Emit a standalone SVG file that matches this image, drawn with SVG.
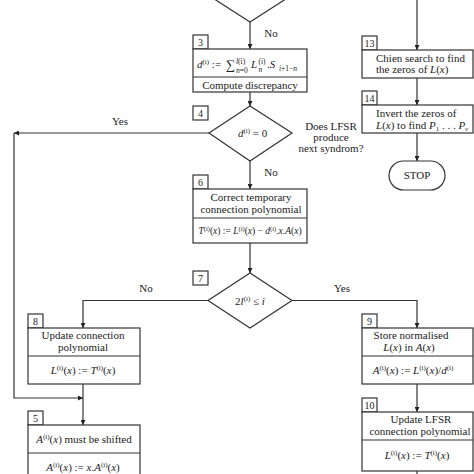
<svg xmlns="http://www.w3.org/2000/svg" width="474" height="474" viewBox="0 0 474 474">
<defs>
<marker id="ah" viewBox="0 0 10 10" refX="10" refY="5" markerWidth="5" markerHeight="5" markerUnits="userSpaceOnUse" orient="auto">
<path d="M0,0 L10,5 L0,10 z" fill="#222"/>
</marker>
<style>
rect, path.s, polygon { fill: #fff; stroke: #333; stroke-width: 1.2; }
.c path { fill: none; stroke: #333; stroke-width: 1.2; marker-end: url(#ah); }
.c path.n { marker-end: none; }
text { font-family: "Liberation Serif", "DejaVu Serif", serif; font-size: 11px; fill: #222; }
.m { text-anchor: middle; }
.lb { font-size: 10px; text-anchor: middle; }
.i { font-style: italic; }
.sp { font-size: 7px; }
.t { font-size: 7.5px; }
.f { font-size: 9.5px; }
.fs { font-size: 6.5px; }
.sig { font-size: 13px; }
</style>
</defs>
<rect x="0" y="0" width="474" height="474" style="fill:#fff;stroke:none"/>

<g class="c" id="connectors">
<path d="M250,22 L250,49"/>
<path d="M250,92 L250,106"/>
<path d="M250,161 L250,189"/>
<path d="M250,243 L250,273"/>
<path d="M208,300.5 L83,300.5 L83,328"/>
<path d="M292,300.5 L417,300.5 L417,328"/>
<path d="M83,384 L83,425"/>
<path d="M209,133 L14,133"/>
<path d="M14,133 L14,398 L83,398"/>
<path d="M417,384 L417,412"/>
<path class="n" d="M417,471 L417,474"/>
<path d="M417,0 L417,50"/>
<path d="M417,78 L417,105"/>
<path d="M417,133 L417,161"/>
</g>

<g id="labels-edges">
<text x="271" y="37" class="m">No</text>
<text x="120" y="125" class="m">Yes</text>
<text x="271" y="176" class="m">No</text>
<text x="146" y="292" class="m">No</text>
<text x="342" y="292" class="m">Yes</text>
</g>

<g id="node-start">
<polygon points="208,-5 250,-32 292,-5 250,22"/>
</g>

<g id="node-3">
<rect x="193" y="35" width="15" height="14"/>
<text x="200.5" y="46" class="lb">3</text>
<rect x="193" y="49" width="114" height="43"/>
<path class="s" d="M193,77 L307,77"/>
<text x="197" y="68"><tspan class="i">d</tspan><tspan class="sp" dy="-4">(i)</tspan><tspan dy="4"> := </tspan></text>
<text x="226" y="69" class="sig">∑</text>
<text x="236" y="63.5" class="t"><tspan class="i">l</tspan>(i)</text>
<text x="236" y="72.5" class="t"><tspan class="i">n</tspan>=0</text>
<text x="251" y="68" class="i">L</text>
<text x="258.5" y="63.5" class="t">(i)</text>
<text x="258.5" y="72" class="t i">n</text>
<text x="267" y="68">.<tspan class="i">S</tspan></text>
<text x="279" y="71" class="t"><tspan class="i">i</tspan>+1−<tspan class="i">n</tspan></text>
<text x="250" y="89" class="m">Compute discrepancy</text>
</g>

<g id="node-4">
<rect x="193" y="106" width="15" height="14"/>
<text x="200.5" y="117" class="lb">4</text>
<polygon points="209,133 250,106 292,133 250,161"/>
<text x="238" y="137"><tspan class="i">d</tspan><tspan class="sp" dy="-4">(i)</tspan><tspan dy="4"> = 0</tspan></text>
<text x="331" y="130" class="m">Does LFSR</text>
<text x="331" y="141" class="m">produce</text>
<text x="331" y="152" class="m">next syndrom?</text>
</g>

<g id="node-6">
<rect x="193" y="175" width="15" height="14"/>
<text x="200.5" y="186" class="lb">6</text>
<rect x="193" y="189" width="114" height="54"/>
<path class="s" d="M193,218 L307,218"/>
<text x="251" y="201" class="m">Correct temporary</text>
<text x="251" y="212.5" class="m">connection polynomial</text>
<text x="250" y="234" class="m f"><tspan class="i">T</tspan><tspan class="fs" dy="-3.5">(i)</tspan><tspan dy="3.5">(</tspan><tspan class="i">x</tspan>) := <tspan class="i">L</tspan><tspan class="fs" dy="-3.5">(i)</tspan><tspan dy="3.5">(</tspan><tspan class="i">x</tspan>) − <tspan class="i">d</tspan><tspan class="fs" dy="-3.5">(i)</tspan><tspan dy="3.5">.</tspan><tspan class="i">x</tspan>.<tspan class="i">A</tspan>(<tspan class="i">x</tspan>)</text>
</g>

<g id="node-7">
<rect x="193" y="271" width="15" height="14"/>
<text x="200.5" y="282" class="lb">7</text>
<polygon points="208,300.5 250,273 292,300.5 250,328"/>
<text x="250" y="305" class="m">2<tspan class="i">l</tspan><tspan class="sp" dy="-4">(i)</tspan><tspan dy="4"> ≤ </tspan><tspan class="i">i</tspan></text>
</g>

<g id="node-8">
<rect x="28" y="314" width="15" height="14"/>
<text x="35.5" y="325" class="lb">8</text>
<rect x="28" y="328" width="112" height="56"/>
<path class="s" d="M28,356 L140,356"/>
<text x="83" y="339" class="m">Update connection</text>
<text x="83" y="350.5" class="m">polynomial</text>
<text x="83" y="374" class="m"><tspan class="i">L</tspan><tspan class="sp" dy="-4">(i)</tspan><tspan dy="4">(</tspan><tspan class="i">x</tspan>) := <tspan class="i">T</tspan><tspan class="sp" dy="-4">(i)</tspan><tspan dy="4">(</tspan><tspan class="i">x</tspan>)</text>
</g>

<g id="node-5">
<rect x="28" y="411" width="15" height="14"/>
<text x="35.5" y="422" class="lb">5</text>
<rect x="28" y="425" width="112" height="58"/>
<path class="s" d="M28,453 L140,453"/>
<text x="84" y="443" class="m"><tspan class="i">A</tspan><tspan class="sp" dy="-4">(i)</tspan><tspan dy="4">(</tspan><tspan class="i">x</tspan>) must be shifted</text>
<text x="83" y="471" class="m"><tspan class="i">A</tspan><tspan class="sp" dy="-4">(i)</tspan><tspan dy="4">(</tspan><tspan class="i">x</tspan>) := <tspan class="i">x</tspan>.<tspan class="i">A</tspan><tspan class="sp" dy="-4">(i)</tspan><tspan dy="4">(</tspan><tspan class="i">x</tspan>)</text>
</g>

<g id="node-9">
<rect x="362" y="314" width="15" height="14"/>
<text x="369.5" y="325" class="lb">9</text>
<rect x="362" y="328" width="111" height="56"/>
<path class="s" d="M362,356 L473,356"/>
<text x="411" y="339" class="m">Store normalised</text>
<text x="409" y="350.5" class="m"><tspan class="i">L</tspan>(<tspan class="i">x</tspan>) in <tspan class="i">A</tspan>(<tspan class="i">x</tspan>)</text>
<text x="413" y="374" class="m"><tspan class="i">A</tspan><tspan class="sp" dy="-4">(i)</tspan><tspan dy="4">(</tspan><tspan class="i">x</tspan>) := <tspan class="i">L</tspan><tspan class="sp" dy="-4">(i)</tspan><tspan dy="4">(</tspan><tspan class="i">x</tspan>)/<tspan class="i">d</tspan><tspan class="sp" dy="-4">(i)</tspan></text>
</g>

<g id="node-10">
<rect x="362" y="398" width="15" height="14"/>
<text x="369.5" y="409" class="lb">10</text>
<rect x="362" y="412" width="111" height="59"/>
<path class="s" d="M362,440 L473,440"/>
<text x="421" y="423" class="m">Update LFSR</text>
<text x="420" y="435" class="m">connection polynomial</text>
<text x="417" y="459" class="m"><tspan class="i">L</tspan><tspan class="sp" dy="-4">(i)</tspan><tspan dy="4">(</tspan><tspan class="i">x</tspan>) := <tspan class="i">T</tspan><tspan class="sp" dy="-4">(i)</tspan><tspan dy="4">(</tspan><tspan class="i">x</tspan>)</text>
</g>

<g id="node-13">
<rect x="362" y="36" width="15" height="14"/>
<text x="369.5" y="47" class="lb">13</text>
<rect x="362" y="50" width="111" height="28"/>
<text x="376" y="61.5">Chien search to find</text>
<text x="376" y="73">the zeros of <tspan class="i">L</tspan>(<tspan class="i">x</tspan>)</text>
</g>

<g id="node-14">
<rect x="362" y="91" width="15" height="14"/>
<text x="369.5" y="102" class="lb">14</text>
<rect x="362" y="105" width="111" height="28"/>
<text x="376" y="117">Invert the zeros of</text>
<text x="376" y="128.5"><tspan class="i">L</tspan>(<tspan class="i">x</tspan>) to find <tspan class="i">P</tspan><tspan class="sp" dy="2">1</tspan><tspan dy="-2"> . . . </tspan><tspan class="i">P</tspan><tspan class="sp i" dy="2">v</tspan></text>
</g>

<g id="node-stop">
<rect x="389" y="161" width="56" height="29" rx="14.5" ry="14.5"/>
<text x="417" y="179" class="m">STOP</text>
</g>
</svg>
